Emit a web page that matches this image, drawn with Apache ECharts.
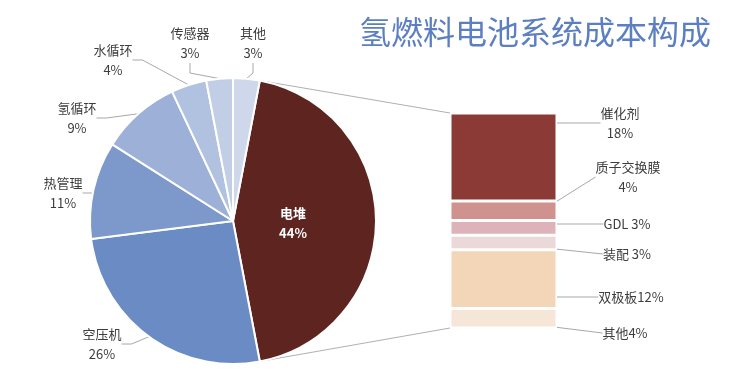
<!DOCTYPE html>
<html>
<head>
<meta charset="utf-8">
<script src="https://cdn.jsdelivr.net/npm/echarts@6/dist/echarts.min.js"></script>
<style>html,body{margin:0;padding:0;background:#fff}#c{width:756px;height:391px}</style>
</head>
<body>
<div id="c"></div>
<script>
// ---- data ----
const titleText = '氢燃料电池系统成本构成';
const pieNames = ['电堆', '空压机', '热管理', '氢循环', '水循环', '传感器', '其他'];
const pieValues = [44, 26, 11, 9, 4, 3, 3];
const barNames = ['催化剂', '质子交换膜', 'GDL', '装配', '双极板', '其他'];
const barValues = [18, 4, 3, 3, 12, 4];

// ---- style / layout ----
const pieColors = ['#5E2420', '#6A8BC3', '#7D99CB', '#9DB1D8', '#B1C1E0', '#C2CEE6', '#CFD8EB'];
const barColors = ['#8B3A36', '#D0928E', '#DDB2B8', '#EBD8D8', '#F3D6B8', '#F5E6D8'];
const barSep = ['\n', '\n', ' ', ' ', '', ''];
const pieLabelPos = [[293, 223], [102, 344], [63, 193], [77, 118], [113, 60], [190, 43], [253, 43]];
const barLabelPos = [[620, 123], [628, 177], [627, 224], [627, 254], [631, 297], [625, 333]];
const PIE_C = [233, 221], PIE_R = 143;
const GRID = {left: 450, top: 113, width: 107, height: 215};
const textFont = '"Noto Sans CJK SC", sans-serif';
const sa = pieValues[0] / 100 * 360 / 2; // first slice centred at 3 o'clock

const chart = echarts.init(document.getElementById('c'), null, {renderer: 'canvas'});

const pieData = pieNames.map((n, i) => {
  const d = {name: n, value: pieValues[i], itemStyle: {color: pieColors[i]}};
  if (i === 0) d.label = {position: 'inside', color: '#fff', fontWeight: 'bold'};
  return d;
});

const barSeries = barNames.map((n, i) => ({
  type: 'bar',
  name: n,
  stack: 'stack',
  barWidth: '100%',
  data: [barValues[i]],
  itemStyle: {color: barColors[i], borderColor: '#fff', borderWidth: 1.5},
  label: {
    show: true,
    position: 'right',
    formatter: n + barSep[i] + barValues[i] + '%',
    color: '#3d3d3d',
    fontSize: 13,
    lineHeight: 20,
    fontFamily: textFont,
    align: 'center'
  },
  labelLine: {show: true, lineStyle: {color: '#a8a8a8', width: 1}},
  labelLayout: function () {
    return {x: barLabelPos[i][0], y: barLabelPos[i][1], align: 'center', verticalAlign: 'middle'};
  },
  emphasis: {disabled: true}
}));

const option = {
  animation: false,
  backgroundColor: '#fff',
  title: {
    text: titleText,
    left: 354,
    top: 11,
    textStyle: {color: '#5B7FC0', fontSize: 32, fontWeight: 'normal', fontFamily: textFont}
  },
  grid: {left: GRID.left, top: GRID.top, width: GRID.width, height: GRID.height},
  xAxis: {type: 'category', data: ['电堆'], show: false},
  yAxis: {type: 'value', min: 0, max: 44, inverse: true, show: false},
  series: [
    {
      type: 'pie',
      center: PIE_C,
      radius: PIE_R,
      startAngle: sa,
      clockwise: true,
      data: pieData,
      itemStyle: {borderColor: '#fff', borderWidth: 2},
      label: {
        show: true,
        formatter: '{b}\n{c}%',
        color: '#3d3d3d',
        fontSize: 13,
        lineHeight: 20,
        fontFamily: textFont,
        align: 'center'
      },
      labelLine: {show: true, length: 10, length2: 10, lineStyle: {color: '#a8a8a8', width: 1}},
      labelLayout: function (p) {
        return {x: pieLabelPos[p.dataIndex][0], y: pieLabelPos[p.dataIndex][1], align: 'center', verticalAlign: 'middle'};
      },
      emphasis: {disabled: true}
    }
  ].concat(barSeries)
};
chart.setOption(option);

// connector lines from the 电堆 slice edges to the bar corners
const a1 = sa * Math.PI / 180, a2 = -sa * Math.PI / 180;
const p1 = [PIE_C[0] + PIE_R * Math.cos(a1), PIE_C[1] - PIE_R * Math.sin(a1)];
const p2 = [PIE_C[0] + PIE_R * Math.cos(a2), PIE_C[1] - PIE_R * Math.sin(a2)];
const tl = chart.convertToPixel({gridIndex: 0}, [0, 0]);
const bl = chart.convertToPixel({gridIndex: 0}, [0, 44]);
const barLeft = GRID.left;
chart.setOption({
  graphic: [
    {type: 'line', shape: {x1: p1[0], y1: p1[1], x2: barLeft, y2: tl[1]}, style: {stroke: '#b0b0b0', lineWidth: 1}, z: 1},
    {type: 'line', shape: {x1: p2[0], y1: p2[1], x2: barLeft, y2: bl[1]}, style: {stroke: '#b0b0b0', lineWidth: 1}, z: 1}
  ]
});
</script>
</body>
</html>
